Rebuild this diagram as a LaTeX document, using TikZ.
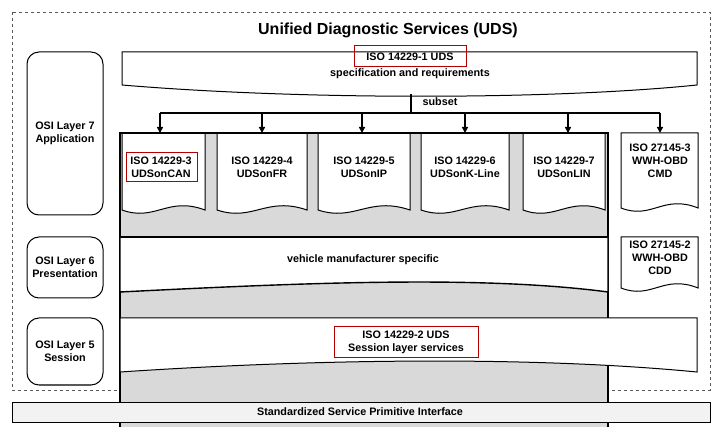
\documentclass[tikz,border=0pt]{standalone}
\usepackage{fontspec}
\setmainfont{Liberation Sans}
\usetikzlibrary{calc,arrows.meta}
\tikzset{x=1pt,y=-1pt,
 lbl/.style={font=\bfseries\fontsize{10.8}{13}\selectfont,align=center,inner sep=1pt},
 layerbox/.style={draw,line width=1pt,rounded corners=12pt,fill=white},
 doc/.style={draw,line width=1pt,fill=white},
 redbox/.style={draw=red!70!black,line width=1pt},
 arr/.style={line width=1.4pt,-{Triangle[length=6pt,width=6pt]}}}
\newcommand{\docshape}[4]{\draw[doc] (#1,#4) -- (#1,#2) -- (#3,#2) -- (#3,#4)
 .. controls ($(#3,#4)!0.45!(#1,#4)+(0,-14)$) and ($(#3,#4)!0.6!(#1,#4)+(0,12)$) .. (#1,#4) -- cycle;}
\begin{document}
\begin{tikzpicture}
\useasboundingbox (0,0) rectangle (720,427);
\fill[white] (0,0) rectangle (720,427);
\draw[dashed,line width=0.6pt,gray!70!black] (12,12) rectangle (710,390);
\node[font=\bfseries\fontsize{16}{18}\selectfont] (title) at (388,30) {Unified Diagnostic Services (UDS)};
% layers
\node[layerbox,minimum width=76pt,minimum height=163pt,lbl] (l7) at (65,133.5) {OSI Layer 7\\Application};
\node[layerbox,minimum width=76pt,minimum height=61pt,lbl] (l6) at (65,267.5) {OSI Layer 6\\Presentation};
\node[layerbox,minimum width=76pt,minimum height=67pt,lbl] (l5) at (65,351.5) {OSI Layer 5\\Session};
% gray region
\fill[gray!30] (120,133) rectangle (608,427);
\draw[line width=1.4pt] (120,427) -- (120,133) -- (608,133) -- (608,427);
% top doc
\draw[doc] (122,85) -- (122,52) -- (697,52) -- (697,85) .. controls (550,100) and (300,100) .. (122,85) -- cycle;
\node[lbl] (iso1) at (410,57) {ISO 14229-1 UDS};
\draw[redbox] (354,46) rectangle (466,67);
\node[lbl] (spec) at (410,74) {specification and requirements};
% subset arrows
\coordinate (sp) at (411,94);
\coordinate (sj) at (411,113);
\draw[line width=1.4pt] (sp) -- (sj);
\draw[line width=1.4pt] (160,113) -- (660,113);
\node[lbl] (subset) at (440,102) {subset};
\foreach \xx/\nm in {160/a,262/b,362/c,465/d,568/e,660/f}{
 \coordinate (t\nm) at (\xx,113);
 \coordinate (h\nm) at (\xx,133);
 \draw[arr] (t\nm) -- (h\nm);}
% app docs
\docshape{122}{133}{205}{210}
\docshape{217}{133}{307}{210}
\docshape{318}{133}{410}{210}
\docshape{421}{133}{509}{210}
\docshape{523}{133}{605}{210}
\draw[line width=1.4pt] (120,133) -- (608,133);
\node[lbl] (d3) at (161,167) {ISO 14229-3\\UDSonCAN};
\draw[redbox] (126,153) rectangle (197,182);
\node[lbl] (d4) at (262,167) {ISO 14229-4\\UDSonFR};
\node[lbl] (d5) at (364,167) {ISO 14229-5\\UDSonIP};
\node[lbl] (d6) at (465,167) {ISO 14229-6\\UDSonK-Line};
\node[lbl] (d7) at (564,167) {ISO 14229-7\\UDSonLIN};
% right docs
\docshape{621}{133}{698}{208}
\node[lbl] (o3) at (660,161) {ISO 27145-3\\WWH-OBD\\CMD};
\docshape{621}{237}{698}{288}
\node[lbl] (o2) at (660,258) {ISO 27145-2\\WWH-OBD\\CDD};
% layer6 band
\draw[line width=1.4pt,fill=white] (120,292) -- (120,237) -- (608,237) -- (608,292) .. controls (480,275) and (300,283) .. (120,292);
\draw[line width=1.4pt] (120,237) -- (608,237);
\node[lbl] (vm) at (363,260) {vehicle manufacturer specific};
% layer5 band
\draw[line width=1pt,fill=white] (120,372) -- (120,318) -- (697,318) -- (697,372) .. controls (520,355) and (300,360) .. (120,372) -- cycle;
\node[lbl] (iso2) at (406,342) {ISO 14229-2 UDS\\Session layer services};
\draw[redbox] (334,327) rectangle (478,358);
% bottom bar
\draw[fill=gray!10,line width=0.6pt] (12,402) rectangle (710,422);
\node[lbl] (ssp) at (360,412) {Standardized Service Primitive Interface};
\end{tikzpicture}
\end{document}
